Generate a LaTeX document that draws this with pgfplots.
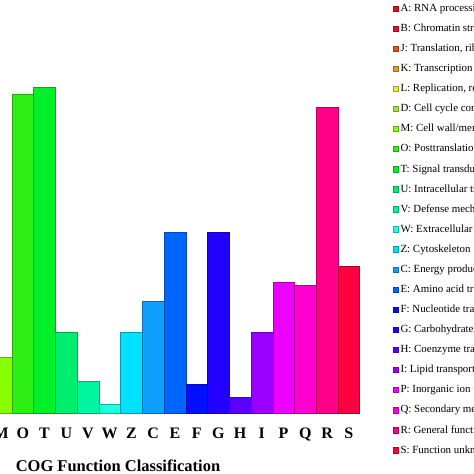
\documentclass[border=0pt]{standalone}
\usepackage{pgfplots}
\pgfplotsset{compat=1.18}
\usepackage{fontspec}
\setmainfont{Liberation Serif}
\definecolor{cA}{HTML}{E01018}
\definecolor{cB}{HTML}{DD1030}
\definecolor{cJ}{HTML}{E55020}
\definecolor{cK}{HTML}{DDA020}
\definecolor{cL}{HTML}{E8E83A}
\definecolor{cD}{HTML}{A5E040}
\definecolor{cM}{HTML}{88FF00}
\definecolor{cO}{HTML}{2EF014}
\definecolor{cT}{HTML}{00F02A}
\definecolor{cU}{HTML}{00EE6E}
\definecolor{cV}{HTML}{00F5A0}
\definecolor{cW}{HTML}{20FFE0}
\definecolor{cZ}{HTML}{00E0FF}
\definecolor{cC}{HTML}{0FA0FF}
\definecolor{cE}{HTML}{0066FF}
\definecolor{cF}{HTML}{0010FF}
\definecolor{cG}{HTML}{2200FF}
\definecolor{cH}{HTML}{5A00FF}
\definecolor{cI}{HTML}{9A00FF}
\definecolor{cP}{HTML}{EE00FF}
\definecolor{cQ}{HTML}{FF00D0}
\definecolor{cR}{HTML}{FF0088}
\definecolor{cS}{HTML}{FF0040}
\pgfplotsset{sq/.style={fill=#1, draw=#1!70!black, line width=0.4pt,
  legend image code/.code={\draw[##1] (0pt,-2.8pt) rectangle (5.6pt,2.8pt);}}}
\begin{document}
\begin{tikzpicture}
\useasboundingbox (0,0) rectangle (474pt,474pt);
\clip (0,0) rectangle (474pt,474pt);
\begin{axis}[
  at={(-140.15pt,60.5pt)}, anchor=south west,
  x=21.73pt, y=1pt,
  xmin=-0.5, xmax=22.5, ymin=0, ymax=413.5,
  axis x line=bottom, axis y line=none,
  axis line style={-, black, line width=1.2pt},
  xtick={6,...,22},
  xticklabels={M,O,T,U,V,W,Z,C,E,F,G,H,I,P,Q,R,S},
  major tick length=0pt,
  xticklabel style={font=\bfseries\fontsize{16}{16}\selectfont, yshift=-11pt},
  ytick=\empty,
  /pgf/bar width=21.73pt,
  clip=false,
  xlabel={COG Function Classification},
  xlabel style={font=\bfseries\fontsize{16.5}{18}\selectfont, at={(axis description cs:0.5165,0)}, anchor=center, yshift=-52pt},
  legend cell align=left,
  legend style={at={(axis description cs:1.0655,0.9955)}, anchor=north west, draw=none, fill=none,
    font=\fontsize{10.9}{12}\selectfont, row sep=7.0pt, inner sep=0pt},
]
\addlegendimage{sq=cA}
\addlegendimage{sq=cB}
\addlegendimage{sq=cJ}
\addlegendimage{sq=cK}
\addlegendimage{sq=cL}
\addlegendimage{sq=cD}
\addplot[ybar, bar shift=0pt, sq=cM] coordinates {(6,56)};
\addplot[ybar, bar shift=0pt, sq=cO] coordinates {(7,319)};
\addplot[ybar, bar shift=0pt, sq=cT] coordinates {(8,326)};
\addplot[ybar, bar shift=0pt, sq=cU] coordinates {(9,81)};
\addplot[ybar, bar shift=0pt, sq=cV] coordinates {(10,32)};
\addplot[ybar, bar shift=0pt, sq=cW] coordinates {(11,9)};
\addplot[ybar, bar shift=0pt, sq=cZ] coordinates {(12,81)};
\addplot[ybar, bar shift=0pt, sq=cC] coordinates {(13,112)};
\addplot[ybar, bar shift=0pt, sq=cE] coordinates {(14,181)};
\addplot[ybar, bar shift=0pt, sq=cF] coordinates {(15,29)};
\addplot[ybar, bar shift=0pt, sq=cG] coordinates {(16,181)};
\addplot[ybar, bar shift=0pt, sq=cH] coordinates {(17,16)};
\addplot[ybar, bar shift=0pt, sq=cI] coordinates {(18,81)};
\addplot[ybar, bar shift=0pt, sq=cP] coordinates {(19,131)};
\addplot[ybar, bar shift=0pt, sq=cQ] coordinates {(20,128)};
\addplot[ybar, bar shift=0pt, sq=cR] coordinates {(21,306)};
\addplot[ybar, bar shift=0pt, sq=cS] coordinates {(22,147)};
\legend{A: RNA processing and modification,
B: Chromatin structure and dynamics,
{J: Translation, ribosomal structure and biogenesis},
K: Transcription,
{L: Replication, recombination and repair},
{D: Cell cycle control, cell division, chromosome partitioning},
M: Cell wall/membrane/envelope biogenesis,
{O: Posttranslational modification, protein turnover, chaperones},
T: Signal transduction mechanisms,
{U: Intracellular trafficking, secretion, and vesicular transport},
V: Defense mechanisms,
W: Extracellular structures,
Z: Cytoskeleton,
C: Energy production and conversion,
E: Amino acid transport and metabolism,
F: Nucleotide transport and metabolism,
G: Carbohydrate transport and metabolism,
H: Coenzyme transport and metabolism,
I: Lipid transport and metabolism,
P: Inorganic ion transport and metabolism,
{Q: Secondary metabolites biosynthesis, transport and catabolism},
R: General function prediction only,
S: Function unknown}
\end{axis}
\end{tikzpicture}
\end{document}
